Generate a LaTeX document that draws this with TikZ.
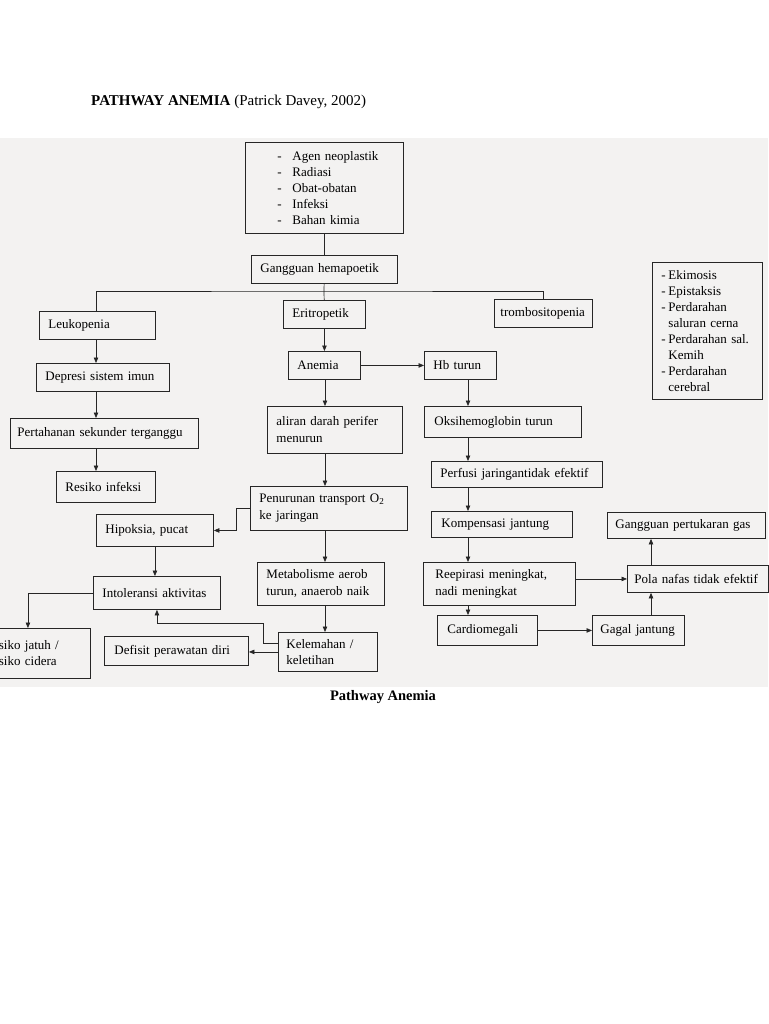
\documentclass[tikz,border=0pt]{standalone}
\usepackage{fontspec}
\setmainfont{Liberation Serif}
\usetikzlibrary{arrows.meta,positioning,calc}
\definecolor{latar}{RGB}{243,242,241}
\hyphenpenalty=10000
\exhyphenpenalty=10000
\begin{document}
\begin{tikzpicture}[
        x=1pt, y=-1pt,
        kotak/.style={draw=black!85, line width=0.9pt, anchor=north west, align=left,
            inner xsep=9pt, inner ysep=2pt, font=\fontsize{13}{17}\selectfont},
        panah/.style={-{Triangle[length=5.5pt,width=4.5pt]}, line width=0.7pt, draw=black!85},
        garis/.style={line width=0.7pt, draw=black!85}
    ]
        % halaman dan latar
        \useasboundingbox (0,0) rectangle (768,1024);
        \fill[white] (0,0) rectangle (768,1024);
        \fill[latar] (0,138) rectangle (768,687);

        % judul
        \node (judul) [anchor=west, inner sep=0pt, font=\fontsize{15}{18}\selectfont] at (91,102) {\textbf{PATHWAY ANEMIA} (Patrick Davey, 2002)};

        % kolom untuk garis panah
        \coordinate (kolomkiri) at (96,0);
        \coordinate (kolomtengah) at (325,0);
        \coordinate (kolomkanan) at (468,0);
        \coordinate (kolompola) at (651,0);
        \coordinate (simpang) at (324,291);

        % definisi node
        \node (sebab) [kotak, text width=140pt, minimum height=91pt, font=\fontsize{13}{16}\selectfont] at (245,142)
            {\hspace*{23pt}\makebox[15pt][l]{-}Agen neoplastik\\
             \hspace*{23pt}\makebox[15pt][l]{-}Radiasi\\
             \hspace*{23pt}\makebox[15pt][l]{-}Obat-obatan\\
             \hspace*{23pt}\makebox[15pt][l]{-}Infeksi\\
             \hspace*{23pt}\makebox[15pt][l]{-}Bahan kimia};
        \node (hema) [kotak, text width=128pt, minimum height=28pt] at (251,255) {Gangguan hemapoetik};
        \node (leuko) [kotak, text width=98pt, minimum height=28pt] at (39,311) {Leukopenia};
        \node (eritro) [kotak, text width=64pt, minimum height=28pt] at (283,300) {Eritropetik};
        \node (trombo) [kotak, inner xsep=6pt, text width=86pt, minimum height=28pt] at (494,299) {trombositopenia};
        \node (ekimosis) [kotak, text width=92pt, minimum height=137pt, font=\fontsize{13}{16}\selectfont] at (652,262)
            {\makebox[7pt][l]{-}Ekimosis\\
             \makebox[7pt][l]{-}Epistaksis\\
             \makebox[7pt][l]{-}Perdarahan\\
             \hspace*{7pt}saluran cerna\\
             \makebox[7pt][l]{-}Perdarahan sal.\\
             \hspace*{7pt}Kemih\\
             \makebox[7pt][l]{-}Perdarahan\\
             \hspace*{7pt}cerebral};

        \node (depresi) [kotak, text width=115pt, minimum height=28pt] at (36,363) {Depresi sistem imun};
        \node (pertahanan) [kotak, inner xsep=7pt, text width=174pt, minimum height=30pt] at (10,418) {Pertahanan sekunder terganggu};
        \node (infeksi) [kotak, text width=81pt, minimum height=31pt] at (56,471) {Resiko infeksi};

        \node (anemia) [kotak, text width=54pt, minimum height=28pt] at (288,351) {Anemia};
        \node (aliran) [kotak, text width=117pt, minimum height=47pt] at (267,406) {aliran darah perifer\\menurun};
        \node (penurunan) [kotak, text width=139pt, minimum height=44pt] at (250,486) {Penurunan transport O\textsubscript{2}\\ke jaringan};
        \node (metabolisme) [kotak, text width=109pt, minimum height=43pt] at (257,562) {Metabolisme aerob\\turun, anaerob naik};
        \node (kelemahan) [kotak, inner xsep=8pt, text width=83pt, minimum height=39pt, font=\fontsize{13}{16}\selectfont] at (278,632) {Kelemahan /\\keletihan};

        \node (hipoksia) [kotak, text width=99pt, minimum height=32pt] at (96,514) {Hipoksia, pucat};
        \node (intoleransi) [kotak, text width=109pt, minimum height=33pt] at (93,576) {Intoleransi aktivitas};
        \node (jatuh) [kotak, text width=97pt, minimum height=50pt, font=\fontsize{13}{16}\selectfont] at (-25,628) {Resiko jatuh /\\Resiko cidera};
        \node (defisit) [kotak, inner xsep=10pt, text width=124pt, minimum height=29pt] at (104,636) {Defisit perawatan diri};

        \node (hb) [kotak, text width=54pt, minimum height=28pt] at (424,351) {Hb turun};
        \node (oksi) [kotak, inner xsep=10pt, text width=137pt, minimum height=31pt] at (424,406) {Oksihemoglobin turun};
        \node (perfusi) [kotak, text width=153pt, minimum height=26pt] at (431,461) {Perfusi jaringantidak efektif};
        \node (kompensasi) [kotak, inner xsep=10pt, text width=121pt, minimum height=26pt] at (431,511) {Kompensasi jantung};
        \node (reepirasi) [kotak, inner xsep=12pt, text width=128pt, minimum height=43pt] at (423,562) {Reepirasi meningkat,\\nadi meningkat};
        \node (cardio) [kotak, inner xsep=10pt, text width=80pt, minimum height=30pt] at (437,615) {Cardiomegali};
        \node (gagal) [kotak, inner xsep=8pt, text width=76pt, minimum height=30pt] at (592,615) {Gagal jantung};
        \node (gas) [kotak, inner xsep=8pt, text width=142pt, minimum height=26pt] at (607,512) {Gangguan pertukaran gas};
        \node (pola) [kotak, inner xsep=7pt, text width=127pt, minimum height=27pt] at (627,565) {Pola nafas tidak efektif};

        % keterangan
        \node (keterangan) [inner sep=0pt, font=\fontsize{14.5}{17}\selectfont\bfseries] at (383,697) {Pathway Anemia};

        % garis percabangan
        \draw [garis] (sebab) -- (hema);
        \draw [garis] (hema) -- (simpang);
        \draw [garis] (leuko.north -| kolomkiri) |- (simpang) -| (trombo.north);
        \draw [garis] (simpang) -- (eritro);

        % kolom kiri
        \draw [panah] (leuko.south -| kolomkiri) -- (depresi.north -| kolomkiri);
        \draw [panah] (depresi.south -| kolomkiri) -- (pertahanan.north -| kolomkiri);
        \draw [panah] (pertahanan.south -| kolomkiri) -- (infeksi.north -| kolomkiri);

        % kolom tengah
        \draw [panah] (eritro) -- (anemia);
        \draw [panah] (anemia) -- (hb);
        \draw [panah] (anemia.south -| kolomtengah) -- (aliran.north -| kolomtengah);
        \draw [panah] (aliran.south -| kolomtengah) -- (penurunan.north -| kolomtengah);
        \draw [panah] (penurunan.south -| kolomtengah) -- (metabolisme.north -| kolomtengah);
        \draw [panah] (metabolisme.south -| kolomtengah) -- (kelemahan.north -| kolomtengah);

        % bawah kiri
        \draw [panah] (penurunan.west) -- ++(-14,0) |- (hipoksia.east);
        \draw [panah] (hipoksia) -- (hipoksia |- intoleransi.north);
        \draw [panah] (intoleransi.west) -| ([xshift=-5pt]jatuh.north);
        \draw [panah] ([yshift=9pt]kelemahan.west) -- ++(-15,0) -- ++(0,-20) -| (intoleransi.south);
        \draw [panah] (kelemahan.west) -- (kelemahan.west -| defisit.east);

        % kolom kanan
        \draw [panah] (hb.south -| kolomkanan) -- (oksi.north -| kolomkanan);
        \draw [panah] (oksi.south -| kolomkanan) -- (perfusi.north -| kolomkanan);
        \draw [panah] (perfusi.south -| kolomkanan) -- (kompensasi.north -| kolomkanan);
        \draw [panah] (kompensasi.south -| kolomkanan) -- (reepirasi.north -| kolomkanan);
        \draw [panah] (reepirasi.south -| kolomkanan) -- (cardio.north -| kolomkanan);
        \draw [panah] (reepirasi.east |- pola) -- (pola.west);
        \draw [panah] (pola.north -| kolompola) -- (gas.south -| kolompola);
        \draw [panah] (gagal.north -| kolompola) -- (pola.south -| kolompola);
        \draw [panah] (cardio) -- (gagal);

    \end{tikzpicture}
\end{document}
